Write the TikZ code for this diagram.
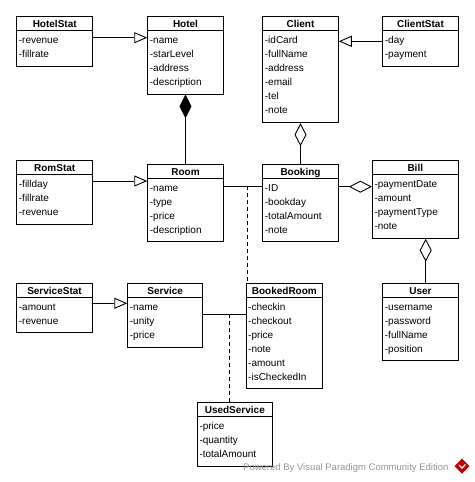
\documentclass[tikz,border=0pt]{standalone}
\usepackage{fontspec}
\setmainfont{Liberation Sans}
\usetikzlibrary{arrows.meta,calc}
\tikzset{
  clsbox/.style={draw, line width=0.9pt, inner sep=0pt, fill=white},
  clsline/.style={line width=0.9pt},
  clstitle/.style={anchor=base, inner sep=0pt, font=\bfseries},
  clsattr/.style={anchor=base west, inner sep=0pt},
  conn/.style={line width=0.9pt},
  gen/.style={conn, -{Triangle[length=13pt,width=11pt,fill=white]}},
  comp/.style={conn, {Diamond[length=24pt,width=12pt]}-},
  aggr/.style={conn, {Diamond[length=23pt,width=12pt,fill=white]}-},
  assocdash/.style={conn, dash pattern=on 4pt off 3pt},
  wmark/.style={anchor=base west, inner sep=0pt, text=black!42, font=\fontsize{9.5}{11}\selectfont}
}
\newcommand\umlcls[7]{%
  \node[clsbox, minimum width=#4pt, minimum height=#5pt] (#1) at ({#2+#4/2},{#3+#5/2}) {};
  \draw[clsline] ({#2},{#3+14}) -- ({#2+#4},{#3+14});
  \node[clstitle] (#1-title) at ({#2+#4/2},{#3+11.5}) {#6};
  \foreach \a [count=\i from 0] in {#7} {\node[clsattr] (#1-a\i) at ({#2+2},{#3+27+14.1*\i}) {\a};}
}
\begin{document}
\begin{tikzpicture}[x=1pt,y=-1pt]
\useasboundingbox (0,0) rectangle (474,482);
\umlcls{HotelStat}{16.7}{16}{76}{50}{HotelStat}{-revenue,-fillrate}
\umlcls{Hotel}{147.7}{16}{75.6}{78}{Hotel}{-name,-starLevel,-address,-description}
\umlcls{Client}{262.7}{16}{75.6}{106.7}{Client}{-idCard,-fullName,-address,-email,-tel,-note}
\umlcls{ClientStat}{382.7}{16}{75.6}{50.3}{ClientStat}{-day,-payment}
\umlcls{RomStat}{16.7}{160}{76}{64}{RomStat}{-fillday,-fillrate,-revenue}
\umlcls{Room}{147.7}{164}{75.6}{77.7}{Room}{-name,-type,-price,-description}
\umlcls{Booking}{262.7}{164}{75.6}{77.7}{Booking}{-ID,-bookday,-totalAmount,-note}
\umlcls{Bill}{372.3}{160}{86}{78.3}{Bill}{-paymentDate,-amount,-paymentType,-note}
\umlcls{ServiceStat}{16.7}{283.3}{75.6}{49.4}{ServiceStat}{-amount,-revenue}
\umlcls{Service}{127.7}{283.3}{75}{64}{Service}{-name,-unity,-price}
\umlcls{BookedRoom}{246}{283.3}{76.7}{105}{BookedRoom}{-checkin,-checkout,-price,-note,-amount,-isCheckedIn}
\umlcls{User}{382.7}{283.3}{75.6}{77.4}{User}{-username,-password,-fullName,-position}
\umlcls{UsedService}{197.3}{402.3}{75}{63.7}{UsedService}{-price,-quantity,-totalAmount}
% generalizations
\draw[gen] (HotelStat.east |- 0,37.7) -- (Hotel.west |- 0,37.7);
\draw[gen] (ClientStat.west |- 0,41.3) -- (Client.east |- 0,41.3);
\draw[gen] (RomStat.east |- 0,181) -- (Room.west |- 0,181);
\draw[gen] (ServiceStat.east |- 0,303.3) -- (Service.west |- 0,303.3);
% composition / aggregation
\draw[comp] (Hotel.south) -- (Room.north);
\draw[aggr] (Client.south) -- (Booking.north);
\draw[aggr] (Bill.west |- 0,186.7) -- (Booking.east |- 0,186.7);
\coordinate (bu) at (425.7,0);
\draw[aggr] (bu |- Bill.south) -- (bu |- User.north);
% associations with association classes
\coordinate (rb) at (247.3,186);
\draw[conn] (Room.east |- rb) -- (Booking.west |- rb);
\draw[assocdash] (rb) -- (rb |- BookedRoom.north);
\coordinate (sb) at (229.3,314.3);
\draw[conn] (Service.east |- sb) -- (BookedRoom.west |- sb);
\draw[assocdash] (sb) -- (sb |- UsedService.north);
% watermark
\node[wmark] (wm) at (243,470) {Powered By Visual Paradigm Community Edition};
\fill[red!75!black] (462,458.5) -- (469.5,466) -- (462,473.5) -- (454.5,466) -- cycle;
\draw[white, line width=1.2pt] (459,465) -- (462,468) -- (465.5,464.5);
\end{tikzpicture}
\end{document}
